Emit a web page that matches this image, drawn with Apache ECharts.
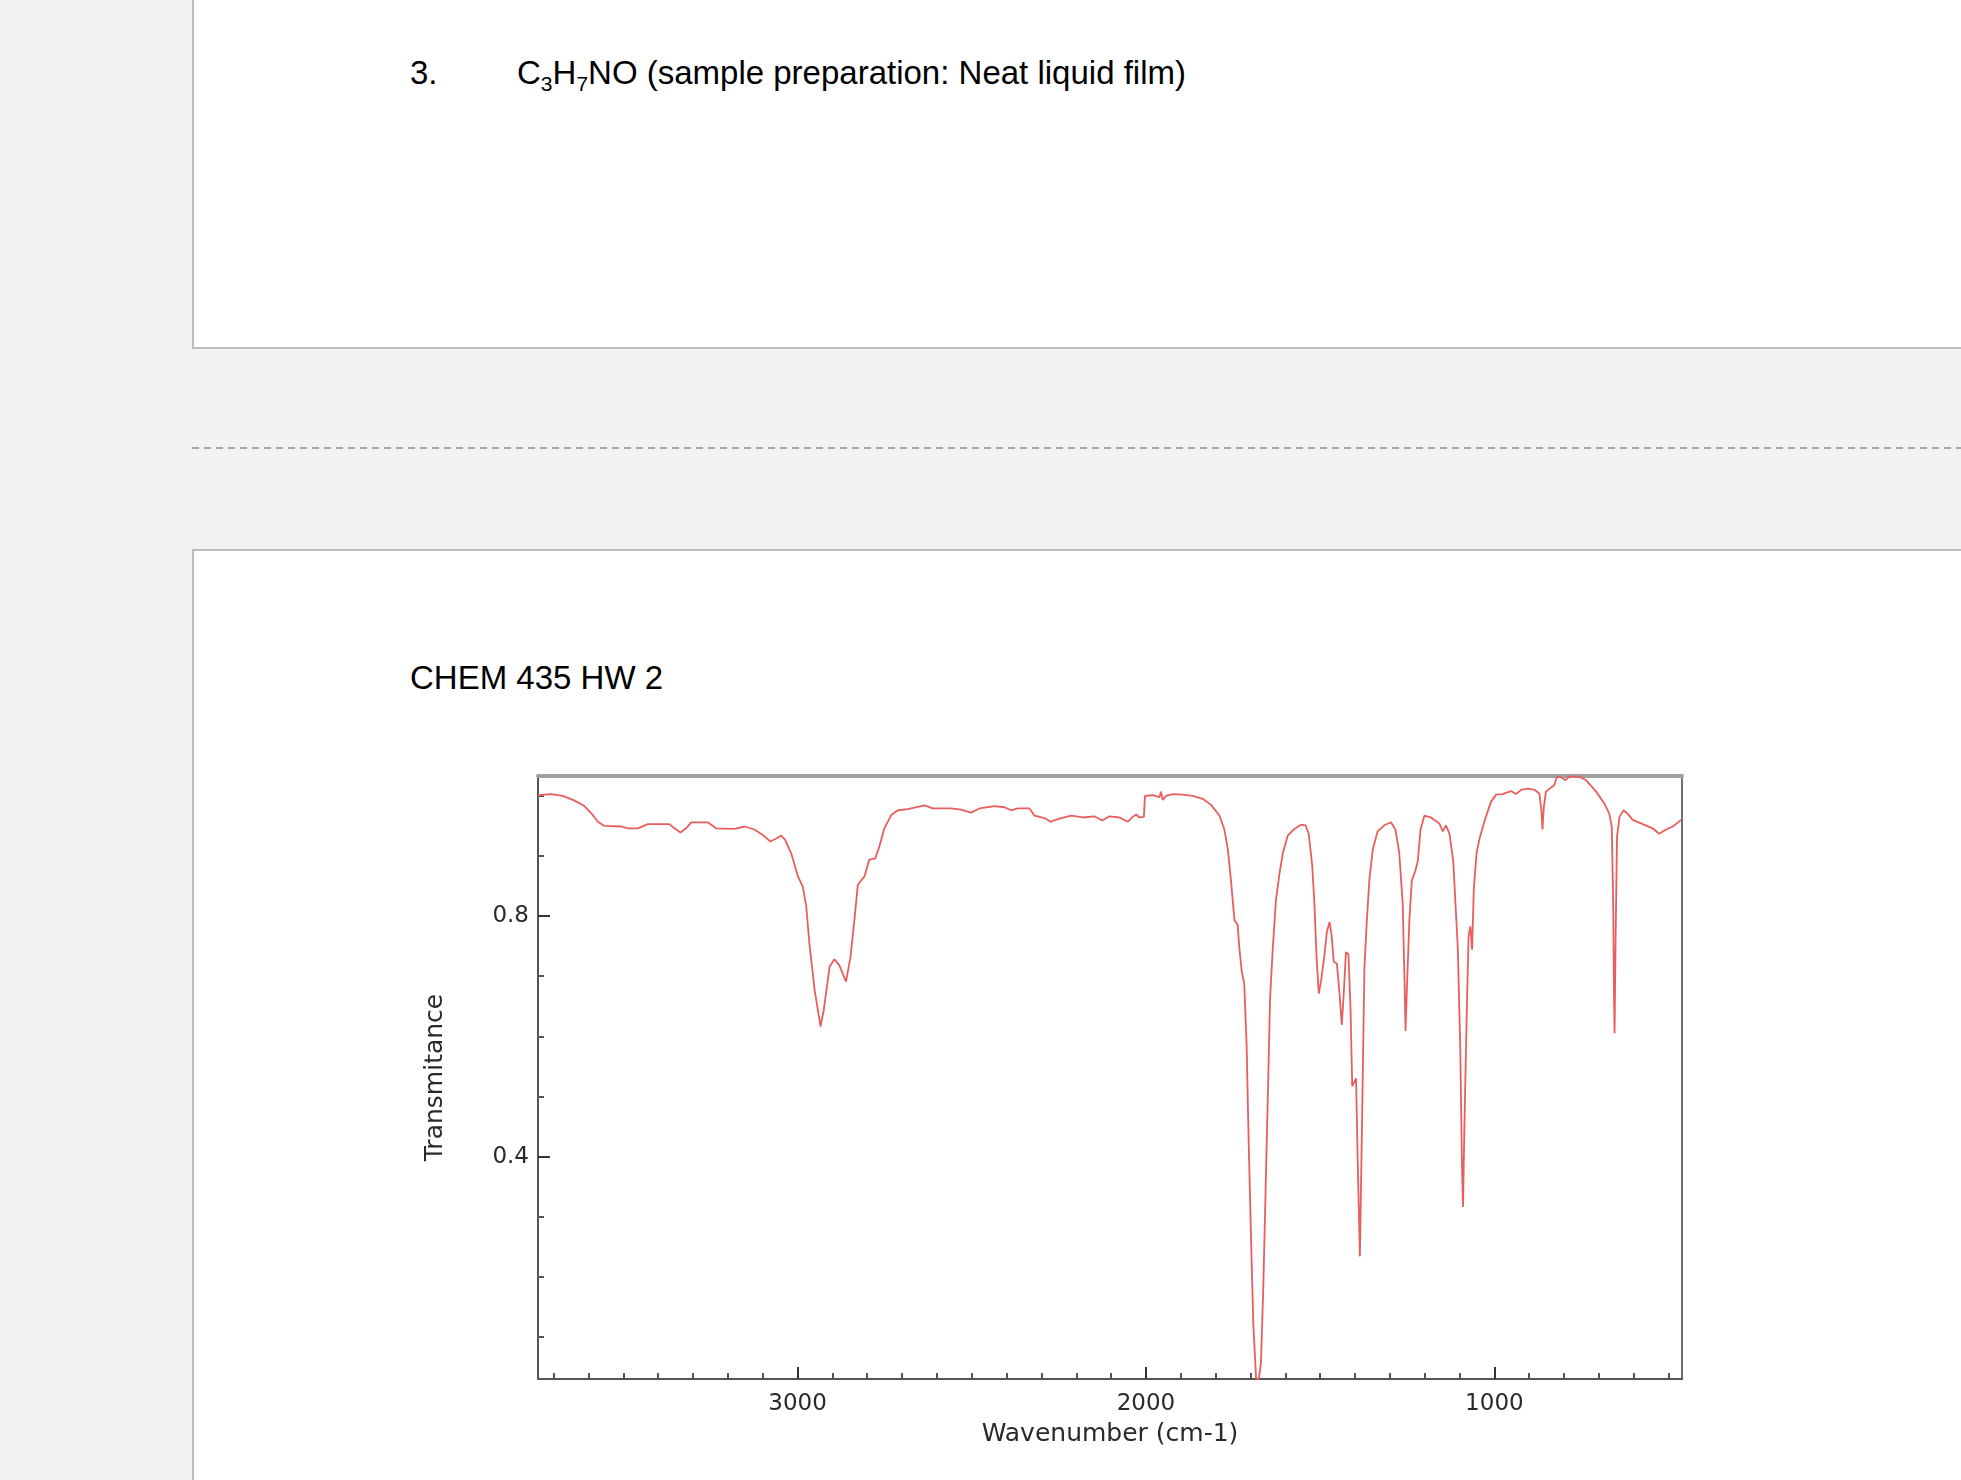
<!DOCTYPE html>
<html>
<head>
<meta charset="utf-8">
<script src="https://cdn.jsdelivr.net/npm/echarts@6/dist/echarts.min.js"></script>
<style>
  html, body { margin: 0; padding: 0; }
  body { width: 1961px; height: 1480px; background: #f2f2f2; position: relative; overflow: hidden; }
  .panel { position: absolute; background: #fff; border: 2px solid #babdc2; box-sizing: content-box; }
  .txt { position: absolute; font-family: "Liberation Sans", Arial, sans-serif; font-size: 33px; line-height: 33px; color: #000; white-space: nowrap; }
  .sub { font-size: 21px; position: relative; top: 7px; }
  .dash { position: absolute; left: 192px; top: 447px; width: 1769px; height: 2px;
    background: repeating-linear-gradient(to right, #a9a9a9 0 7px, transparent 7px 12px); }
  #chart { position: absolute; left: 0; top: 0; width: 1961px; height: 1480px; }
</style>
</head>
<body>
<div class="panel" style="left:192px; top:-2px; width:1800px; height:347px;"></div>
<div class="txt" style="left:410px; top:56px;">3.</div>
<div class="txt" style="left:517px; top:56px;">C<span class="sub">3</span>H<span class="sub">7</span>NO (sample preparation: Neat liquid film)</div>
<div class="dash"></div>
<div class="panel" style="left:192px; top:549px; width:1800px; height:960px;"></div>
<div class="txt" style="left:410px; top:661px;">CHEM 435 HW 2</div>
<div id="chart"></div>
<script>
// IR spectrum
const wavenumbers = [
  3745, 3707, 3674, 3640, 3612, 3592, 3573, 3554, 3506, 3487, 3458, 3430, 3368, 3353, 3336, 3320,
  3305, 3258, 3234, 3181, 3152, 3124, 3100, 3078, 3061, 3047, 3036, 3018, 2999, 2985, 2975, 2966,
  2951, 2934, 2925, 2908, 2894, 2880, 2861, 2848, 2837, 2827, 2808, 2794, 2777, 2765, 2751, 2731,
  2712, 2684, 2636, 2612, 2559, 2531, 2502, 2478, 2435, 2406, 2387, 2368, 2334, 2320, 2291, 2274,
  2248, 2215, 2181, 2148, 2126, 2105, 2076, 2052, 2038, 2028, 2019, 2006, 2003, 1981, 1961, 1957,
  1952, 1942, 1923, 1895, 1866, 1837, 1813, 1789, 1775, 1765, 1756, 1746, 1737, 1732, 1725, 1718,
  1711, 1705, 1698, 1692, 1684, 1676, 1670, 1663, 1655, 1649, 1644, 1636, 1627, 1617, 1607, 1593,
  1574, 1555, 1542, 1533, 1523, 1517, 1510, 1504, 1497, 1488, 1481, 1473, 1467, 1461, 1452, 1445,
  1438, 1432, 1426, 1419, 1413, 1408, 1402, 1397, 1392, 1386, 1380, 1373, 1366, 1359, 1349, 1335,
  1316, 1297, 1284, 1273, 1263, 1258, 1255, 1251, 1244, 1237, 1227, 1220, 1212, 1201, 1182, 1158,
  1148, 1139, 1129, 1118, 1105, 1098, 1093, 1090, 1086, 1079, 1074, 1069, 1064, 1059, 1051, 1043,
  1029, 1010, 995, 976, 967, 952, 938, 923, 904, 885, 871, 865, 862, 858, 852, 837,
  828, 821, 809, 796, 785, 756, 737, 708, 684, 670, 663, 659, 657, 655, 652, 648,
  641, 629, 617, 603, 574, 546, 527, 507, 488, 464
];
const transmittance = [
  1.001, 1.003, 1.000, 0.992, 0.983, 0.971, 0.957, 0.950, 0.949, 0.946, 0.946, 0.953, 0.953, 0.946, 0.939, 0.946,
  0.956, 0.956, 0.946, 0.945, 0.949, 0.944, 0.935, 0.924, 0.929, 0.934, 0.927, 0.904, 0.866, 0.849, 0.816, 0.754,
  0.677, 0.616, 0.643, 0.716, 0.728, 0.718, 0.691, 0.732, 0.793, 0.852, 0.866, 0.894, 0.896, 0.916, 0.946, 0.968,
  0.976, 0.978, 0.984, 0.979, 0.979, 0.977, 0.972, 0.979, 0.983, 0.981, 0.976, 0.979, 0.979, 0.967, 0.963, 0.957,
  0.962, 0.967, 0.964, 0.966, 0.959, 0.966, 0.964, 0.957, 0.965, 0.969, 0.964, 0.965, 1.000, 1.001, 0.998, 1.007,
  0.993, 1.000, 1.003, 1.002, 1.000, 0.995, 0.985, 0.967, 0.944, 0.911, 0.859, 0.793, 0.786, 0.747, 0.707, 0.688,
  0.583, 0.418, 0.254, 0.123, 0.031, 0.030, 0.057, 0.188, 0.385, 0.530, 0.661, 0.747, 0.826, 0.870, 0.905, 0.934,
  0.945, 0.952, 0.951, 0.937, 0.885, 0.826, 0.727, 0.671, 0.694, 0.734, 0.773, 0.790, 0.767, 0.724, 0.721, 0.675,
  0.619, 0.675, 0.740, 0.737, 0.648, 0.517, 0.524, 0.530, 0.385, 0.234, 0.451, 0.714, 0.793, 0.859, 0.911, 0.941,
  0.951, 0.956, 0.944, 0.905, 0.819, 0.694, 0.609, 0.681, 0.793, 0.859, 0.875, 0.891, 0.944, 0.967, 0.964, 0.954,
  0.941, 0.951, 0.937, 0.891, 0.747, 0.583, 0.385, 0.316, 0.451, 0.648, 0.767, 0.783, 0.744, 0.846, 0.905, 0.928,
  0.957, 0.990, 1.002, 1.003, 1.005, 1.008, 1.003, 1.010, 1.012, 1.010, 1.004, 0.976, 0.944, 0.982, 1.007, 1.014,
  1.018, 1.031, 1.031, 1.026, 1.032, 1.032, 1.026, 1.007, 0.987, 0.970, 0.948, 0.821, 0.683, 0.605, 0.766, 0.932,
  0.965, 0.976, 0.970, 0.960, 0.953, 0.946, 0.937, 0.944, 0.949, 0.960
];

const xMin = 461.5;
const xMax = 3745;
const yMin = 0.03;
const yMax = 1.033;

const xMinorTicks = [500, 600, 700, 800, 900, 1100, 1200, 1300, 1400, 1500, 1600, 1700, 1800, 1900,
  2100, 2200, 2300, 2400, 2500, 2600, 2700, 2800, 2900, 3100, 3200, 3300, 3400, 3500, 3600, 3700];
const xMajorTicks = [1000, 2000, 3000];
const yMinorTicks = [0.1, 0.2, 0.3, 0.5, 0.6, 0.7, 0.9, 1.0];
const yMajorTicks = [0.4, 0.8];

const axisColor = '#555';
const labelFont = { color: '#2a2a2a', fontSize: 23, fontFamily: 'DejaVu Sans', formatter: v => String(v) };

const chart = echarts.init(document.getElementById('chart'));

const points = wavenumbers.map((w, i) => [w, transmittance[i]]);

const option = {
  animation: false,
  grid: { left: 538, right: 279, top: 776, bottom: 101 },
  xAxis: [
    {
      type: 'value', position: 'bottom', min: xMin, max: xMax, inverse: true,
      axisLine: { lineStyle: { color: axisColor, width: 2 } },
      axisTick: { inside: true, length: 6, customValues: xMinorTicks, lineStyle: { color: axisColor, width: 2 } },
      axisLabel: { customValues: xMajorTicks, margin: 14, ...labelFont },
      splitLine: { show: false },
      name: 'Wavenumber (cm-1)', nameLocation: 'middle', nameGap: 43,
      nameTextStyle: { color: '#2a2a2a', fontSize: 25, fontFamily: 'DejaVu Sans' }
    },
    {
      type: 'value', position: 'bottom', min: xMin, max: xMax, inverse: true,
      axisLine: { show: false },
      axisTick: { inside: true, length: 12, customValues: xMajorTicks, lineStyle: { color: '#333', width: 2 } },
      axisLabel: { show: false },
      splitLine: { show: false }
    },
    {
      type: 'value', position: 'top', min: xMin, max: xMax, inverse: true,
      axisLine: { lineStyle: { color: '#a0a0a0', width: 4 } },
      axisTick: { show: false }, axisLabel: { show: false }, splitLine: { show: false }
    }
  ],
  yAxis: [
    {
      type: 'value', position: 'left', min: yMin, max: yMax,
      axisLine: { show: true, lineStyle: { color: axisColor, width: 2 } },
      axisTick: { show: true, inside: true, length: 6, customValues: yMinorTicks, lineStyle: { color: axisColor, width: 2 } },
      axisLabel: { customValues: yMajorTicks, margin: 9, ...labelFont },
      splitLine: { show: false },
      name: 'Transmitance', nameLocation: 'middle', nameGap: 90, nameRotate: 90,
      nameTextStyle: { color: '#2a2a2a', fontSize: 25, fontFamily: 'DejaVu Sans' }
    },
    {
      type: 'value', position: 'left', min: yMin, max: yMax,
      axisLine: { show: false },
      axisTick: { show: true, inside: true, length: 12, customValues: yMajorTicks, lineStyle: { color: '#333', width: 2 } },
      axisLabel: { show: false },
      splitLine: { show: false }
    },
    {
      type: 'value', position: 'right', min: yMin, max: yMax,
      axisLine: { show: true, lineStyle: { color: '#707070', width: 2 } },
      axisTick: { show: false }, axisLabel: { show: false }, splitLine: { show: false }
    }
  ],
  series: [
    {
      name: 'Transmitance',
      type: 'line',
      data: points,
      showSymbol: false,
      clip: true,
      lineStyle: { color: '#e85e5e', width: 1.8 }
    }
  ]
};

chart.setOption(option);
</script>
</body>
</html>
